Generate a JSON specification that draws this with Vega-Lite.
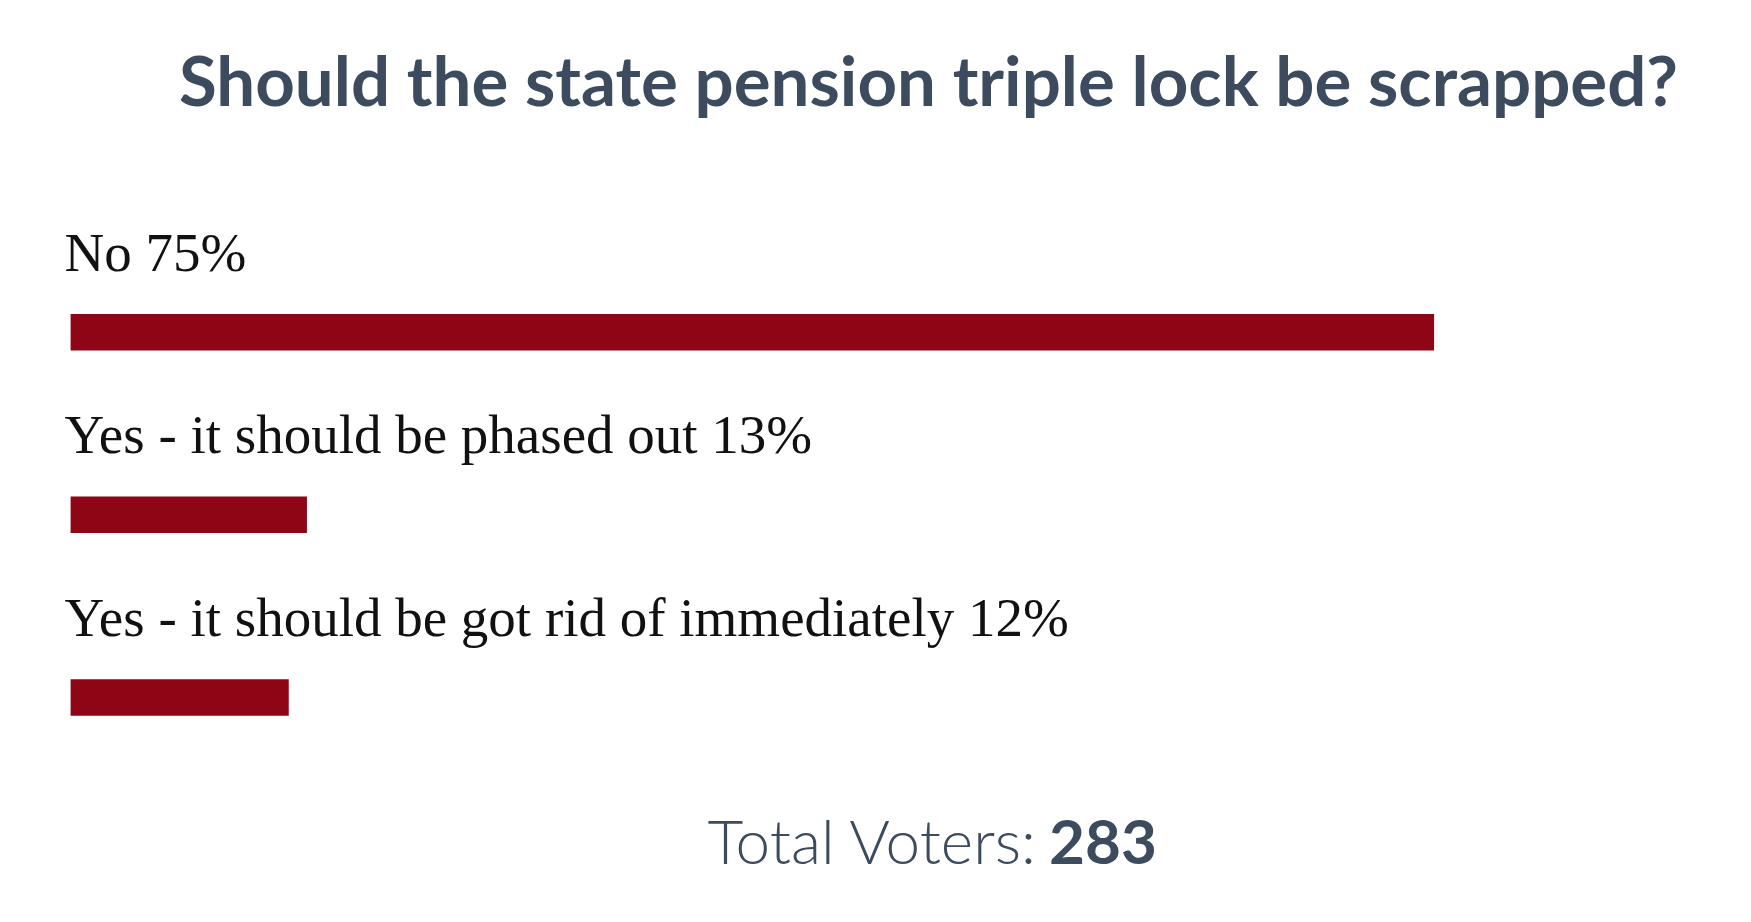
{
  "$schema": "https://vega.github.io/schema/vega-lite/v6.json",
  "width": 1751,
  "height": 922,
  "autosize": {"type": "none"},
  "padding": 0,
  "background": "white",
  "config": {"view": {"stroke": null}},
  "title": {
    "text": "Should the state pension triple lock be scrapped?",
    "font": "Lato",
    "fontWeight": "bold",
    "fontSize": 69,
    "color": "#3d4b5e",
    "anchor": "middle",
    "frame": "group",
    "baseline": "alphabetic",
    "offset": -175,
    "dx": 53
  },
  "data": {
    "values": [
      {"option": "No", "label": "No 75%", "pct": 75},
      {"option": "Yes - it should be phased out", "label": "Yes - it should be phased out 13%", "pct": 13},
      {"option": "Yes - it should be got rid of immediately", "label": "Yes - it should be got rid of immediately 12%", "pct": 12},
      {"option": "Total Voters", "label": "Total Voters:", "total": 283}
    ]
  },
  "encoding": {
    "y": {
      "field": "option",
      "type": "nominal",
      "sort": null,
      "scale": {"type": "band", "range": [314, 898.3], "paddingInner": 0.8, "paddingOuter": 0},
      "axis": null
    }
  },
  "layer": [
    {
      "transform": [{"filter": "isValid(datum.pct)"}],
      "mark": {"type": "bar", "color": "#8e0516"},
      "encoding": {
        "x": {
          "field": "pct",
          "type": "quantitative",
          "scale": {"domain": [0, 100], "range": [70.6, 1888.6], "zero": true},
          "axis": null
        }
      }
    },
    {
      "transform": [{"filter": "isValid(datum.pct)"}],
      "mark": {"type": "text", "align": "left", "baseline": "alphabetic", "dx": -6, "dy": -61.6, "font": "Liberation Serif", "fontSize": 55, "color": "#111111"},
      "encoding": {
        "x": {"datum": 0, "type": "quantitative"},
        "text": {"field": "label"}
      }
    },
    {
      "transform": [{"filter": "isValid(datum.total)"}],
      "mark": {"type": "text", "align": "right", "baseline": "alphabetic", "dx": 0, "dy": -16, "font": "Lato", "fontWeight": 300, "fontSize": 62, "color": "#3d4b5e"},
      "encoding": {
        "x": {"datum": 53.1, "type": "quantitative"},
        "text": {"field": "label"}
      }
    },
    {
      "transform": [{"filter": "isValid(datum.total)"}],
      "mark": {"type": "text", "align": "left", "baseline": "alphabetic", "dx": 13, "dy": -16, "font": "Lato", "fontWeight": "bold", "fontSize": 62, "color": "#3d4b5e"},
      "encoding": {
        "x": {"datum": 53.1, "type": "quantitative"},
        "text": {"field": "total"}
      }
    }
  ]
}
